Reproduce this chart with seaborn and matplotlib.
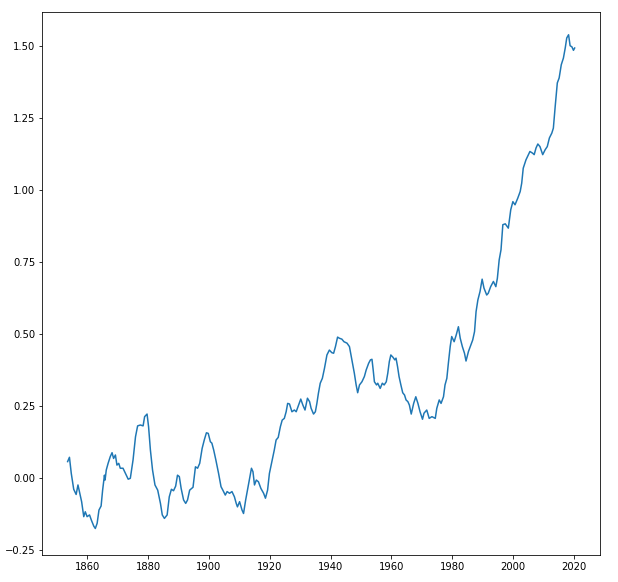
import seaborn as sns
import matplotlib.pyplot as plt
from matplotlib.ticker import MultipleLocator

years = [
    1853.6, 1854.2, 1854.8, 1855.6, 1856.4, 1857.0, 1857.6, 1858.2, 1858.9, 1859.4,
    1860.0, 1860.8, 1861.4, 1862.2, 1862.7, 1863.3, 1863.9, 1864.6, 1865.1, 1865.7,
    1865.9, 1866.3, 1866.9, 1867.6, 1868.2, 1868.7, 1869.3, 1869.8, 1870.4, 1870.9,
    1871.8, 1872.6, 1873.5, 1874.2, 1875.1, 1875.9, 1876.6, 1877.5, 1878.4, 1878.9,
    1879.7, 1880.2, 1880.8, 1881.5, 1882.3, 1883.2, 1884.1, 1884.7, 1885.4, 1886.3,
    1887.0, 1887.7, 1888.4, 1889.1, 1889.7, 1890.3, 1890.9, 1891.7, 1892.4, 1893.0,
    1893.7, 1894.8, 1895.6, 1896.3, 1897.0, 1897.8, 1898.5, 1899.2, 1899.8, 1900.5,
    1901.0, 1901.6, 1902.3, 1903.2, 1904.0, 1904.6, 1905.4, 1906.0, 1906.8, 1907.6,
    1908.4, 1909.0, 1909.4, 1910.1, 1910.9, 1911.4, 1912.1, 1912.7, 1913.4, 1914.0,
    1914.5, 1915.0, 1915.6, 1916.3, 1917.1, 1918.0, 1918.6, 1919.3, 1919.9, 1920.7,
    1921.5, 1922.1, 1922.8, 1923.5, 1924.1, 1924.8, 1925.4, 1925.9, 1926.5, 1927.3,
    1928.1, 1928.7, 1929.5, 1930.2, 1930.9, 1931.6, 1932.4, 1933.1, 1933.6, 1934.4,
    1935.0, 1935.5, 1936.0, 1936.6, 1937.3, 1938.0, 1938.8, 1939.6, 1940.4, 1941.0,
    1941.6, 1942.3, 1942.9, 1943.7, 1944.4, 1945.4, 1946.2, 1947.0, 1947.8, 1948.4,
    1948.9, 1949.5, 1950.3, 1951.1, 1951.7, 1952.5, 1953.1, 1953.6, 1954.0, 1954.4,
    1955.1, 1955.5, 1956.3, 1957.0, 1957.6, 1958.3, 1958.8, 1959.3, 1959.8, 1960.5,
    1961.1, 1961.5, 1962.0, 1962.5, 1963.1, 1963.7, 1964.3, 1964.8, 1965.4, 1965.9,
    1966.5, 1967.3, 1968.0, 1968.7, 1969.4, 1970.2, 1970.7, 1971.6, 1972.4, 1973.3,
    1974.0, 1974.4, 1974.9, 1975.7, 1976.3, 1977.1, 1977.6, 1978.2, 1978.7, 1979.3,
    1979.8, 1980.6, 1981.3, 1982.0, 1982.6, 1983.3, 1984.0, 1984.5, 1985.3, 1986.1,
    1986.7, 1987.3, 1987.8, 1988.4, 1989.1, 1989.8, 1990.4, 1991.3, 1991.8, 1992.6,
    1993.5, 1994.3, 1994.8, 1995.4, 1996.0, 1996.6, 1997.4, 1998.4, 1999.2, 1999.9,
    2000.6, 2001.5, 2002.3, 2002.8, 2003.3, 2004.2, 2005.0, 2005.5, 2006.4, 2006.9,
    2007.5, 2008.1, 2008.8, 2009.7, 2010.5, 2011.2, 2011.9, 2012.7, 2013.2, 2013.8,
    2014.5, 2015.1, 2015.8, 2016.5, 2017.1, 2017.6, 2018.2, 2018.7, 2019.3, 2019.8,
    2020.2,
]

anomaly = [
    0.058, 0.073, 0.017, -0.038, -0.056, -0.023, -0.052, -0.081, -0.133, -0.116,
    -0.133, -0.127, -0.145, -0.166, -0.174, -0.156, -0.110, -0.096, -0.041, 0.011,
    -0.006, 0.029, 0.052, 0.075, 0.089, 0.069, 0.081, 0.046, 0.052, 0.035,
    0.035, 0.017, -0.003, 0.000, 0.064, 0.144, 0.182, 0.185, 0.182, 0.214,
    0.223, 0.179, 0.098, 0.029, -0.023, -0.041, -0.087, -0.127, -0.139, -0.127,
    -0.064, -0.038, -0.043, -0.027, 0.011, 0.006, -0.035, -0.075, -0.087, -0.075,
    -0.041, -0.031, 0.040, 0.035, 0.052, 0.104, 0.133, 0.158, 0.156, 0.127,
    0.122, 0.098, 0.064, 0.017, -0.029, -0.041, -0.058, -0.046, -0.052, -0.046,
    -0.064, -0.087, -0.099, -0.081, -0.110, -0.122, -0.075, -0.041, 0.000, 0.035,
    0.023, -0.023, -0.006, -0.012, -0.035, -0.052, -0.069, -0.041, 0.017, 0.058,
    0.098, 0.133, 0.142, 0.179, 0.202, 0.208, 0.231, 0.260, 0.258, 0.231,
    0.237, 0.231, 0.254, 0.275, 0.254, 0.237, 0.278, 0.266, 0.243, 0.223,
    0.231, 0.260, 0.295, 0.330, 0.347, 0.382, 0.428, 0.445, 0.436, 0.434,
    0.457, 0.490, 0.486, 0.483, 0.474, 0.469, 0.457, 0.411, 0.365, 0.324,
    0.297, 0.324, 0.335, 0.353, 0.376, 0.399, 0.411, 0.413, 0.376, 0.335,
    0.324, 0.330, 0.312, 0.330, 0.324, 0.335, 0.365, 0.405, 0.428, 0.420,
    0.411, 0.417, 0.388, 0.353, 0.324, 0.297, 0.289, 0.272, 0.266, 0.254,
    0.223, 0.260, 0.283, 0.260, 0.231, 0.205, 0.226, 0.237, 0.208, 0.214,
    0.210, 0.208, 0.243, 0.272, 0.260, 0.283, 0.324, 0.347, 0.399, 0.457,
    0.492, 0.474, 0.498, 0.526, 0.486, 0.457, 0.434, 0.407, 0.440, 0.463,
    0.480, 0.509, 0.578, 0.619, 0.648, 0.691, 0.660, 0.636, 0.642, 0.665,
    0.683, 0.665, 0.694, 0.758, 0.793, 0.880, 0.883, 0.868, 0.932, 0.960,
    0.949, 0.972, 0.995, 1.024, 1.076, 1.105, 1.123, 1.134, 1.128, 1.123,
    1.146, 1.160, 1.151, 1.123, 1.140, 1.151, 1.181, 1.198, 1.215, 1.290,
    1.372, 1.389, 1.435, 1.458, 1.493, 1.528, 1.539, 1.501, 1.497, 1.485,
    1.493,
]

fig = plt.figure(figsize=(618 / 72, 582 / 72), dpi=72)
ax = fig.add_axes([0.0684, 0.0464, 0.9025, 0.9335])
sns.lineplot(x=years, y=anomaly, ax=ax, color='#1f77b4', linewidth=1.5)
ax.xaxis.set_major_locator(MultipleLocator(20))
ax.set_ylim(-0.266, 1.619)

fig.savefig('out.png', dpi=72)
